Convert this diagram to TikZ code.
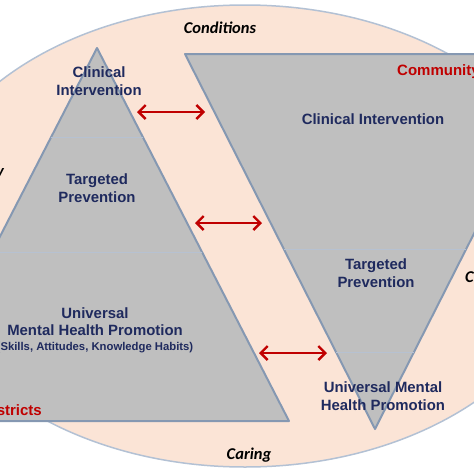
\documentclass[tikz,border=0pt]{standalone}
\usepackage{fontspec}
\setmainfont{Liberation Sans}
\newfontfamily\capfont{Carlito}
\usetikzlibrary{arrows.meta,calc}
\definecolor{peach}{HTML}{FBE4D6}
\definecolor{rim}{HTML}{B3C1D4}
\definecolor{tierfill}{HTML}{BFBFBF}
\definecolor{tieredge}{HTML}{8598B2}
\definecolor{navy}{HTML}{1F2A5E}
\definecolor{darkred}{HTML}{C00000}
\tikzset{
  tier/.style={fill=tierfill,draw=tieredge,line width=2pt,line join=round},
  divider/.style={draw=tieredge!60,line width=0.8pt},
  tiertext/.style={text=navy,align=center,inner sep=0pt,
    font=\bfseries\fontsize{14.9}{17.5}\selectfont},
  ctext/.style={text=black,inner sep=0pt,
    font=\capfont\bfseries\itshape\fontsize{16.5}{18}\selectfont},
  placetext/.style={text=darkred,inner sep=0pt,
    font=\bfseries\fontsize{15}{18}\selectfont},
  link/.style={draw=darkred,line width=2.4pt,
    {Straight Barb[length=7pt,width=14pt]}-{Straight Barb[length=7pt,width=14pt]}}
}

\begin{document}
\begin{tikzpicture}[x=1pt,y=-1pt]
    \useasboundingbox (0,0) rectangle (474,474);
    \clip (0,0) rectangle (474,474);
    \fill[white] (0,0) rectangle (474,474);
    % outer ring
    \filldraw[fill=peach,draw=rim,line width=1.5pt] (245,236) ellipse [x radius=330, y radius=231];
    % pyramid
    \coordinate (ltop) at (97,48);
    \coordinate (lright) at (289,421);
    \coordinate (lleft) at (-95,421);
    \filldraw[tier] (ltop) -- (lright) -- (lleft) -- cycle;
    \foreach \t in {0.239,0.548} {
      \draw[divider] ($(ltop)!\t!(lleft)$) -- ($(ltop)!\t!(lright)$);
    }
    % inverted pyramid
    \coordinate (rleft) at (185,54);
    \coordinate (rright) at (565,54);
    \coordinate (rbot) at (375,429);
    \filldraw[tier] (rleft) -- (rright) -- (rbot) -- cycle;
    \foreach \t in {0.52,0.795} {
      \draw[divider] ($(rleft)!\t!(rbot)$) -- ($(rright)!\t!(rbot)$);
    }
    % tiers
    \node[tiertext] (lclin) at (99,81) {Clinical\\Intervention};
    \node[tiertext] (ltarg) at (97,188) {Targeted\\Prevention};
    \node[tiertext] (luniv) at (95,330) {Universal\\Mental Health Promotion\\[-3pt]
      {\fontsize{11.3}{13}\selectfont(Skills, Attitudes, Knowledge Habits)}};
    \node[tiertext] (rclin) at (373,119) {Clinical Intervention};
    \node[tiertext] (rtarg) at (376,273) {Targeted\\Prevention};
    \node[tiertext] (runiv) at (383,396) {Universal Mental\\Health Promotion};
    % places
    \node[placetext,anchor=west] (comm) at (397,72) {Community};
    \node[placetext,anchor=east] (dist) at (42,410) {Districts};
    % ring words
    \node[ctext] (cond) at (220,28) {Conditions};
    \node[ctext] (caring) at (249,455) {Caring};
    \node[ctext,anchor=east] (capleft) at (4,172) {Capacity};
    \node[ctext,anchor=west] (capright) at (465,277) {Connections};
    % links
    \foreach \i/\xa/\xb/\y in {1/137/205/112,2/195/262/223,3/259/327/353} {
      \coordinate (s\i) at (\xa,\y);
      \coordinate (e\i) at (\xb,\y);
      \draw[link] (s\i) -- (e\i);
    }
  \end{tikzpicture}
\end{document}
